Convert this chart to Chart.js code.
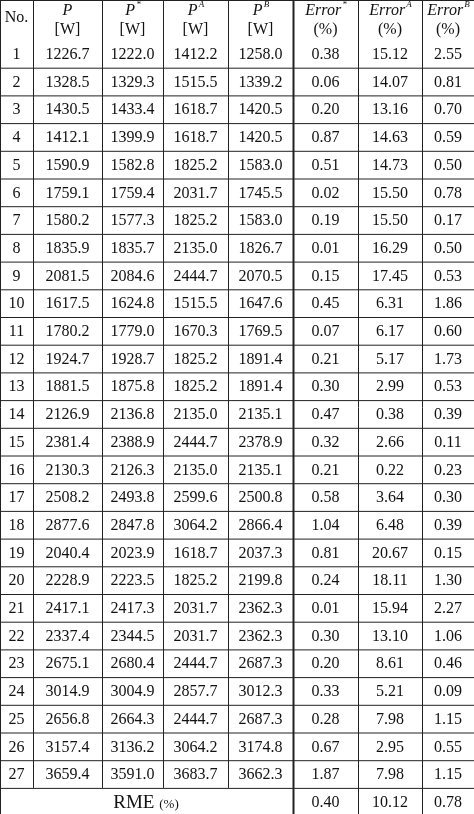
<!DOCTYPE html>
<html><head><meta charset="utf-8">
<script src="https://cdn.jsdelivr.net/npm/chart.js@4"></script>
<style>html,body{margin:0;padding:0;background:#fff}#c{display:block}</style>
</head><body><canvas id="c" width="474" height="814"></canvas>
<script>
const rowNo = [1,2,3,4,5,6,7,8,9,10,11,12,13,14,15,16,17,18,19,20,21,22,23,24,25,26,27];
const P      = ["1226.7","1328.5","1430.5","1412.1","1590.9","1759.1","1580.2","1835.9","2081.5","1617.5","1780.2","1924.7","1881.5","2126.9","2381.4","2130.3","2508.2","2877.6","2040.4","2228.9","2417.1","2337.4","2675.1","3014.9","2656.8","3157.4","3659.4"];
const Pstar  = ["1222.0","1329.3","1433.4","1399.9","1582.8","1759.4","1577.3","1835.7","2084.6","1624.8","1779.0","1928.7","1875.8","2136.8","2388.9","2126.3","2493.8","2847.8","2023.9","2223.5","2417.3","2344.5","2680.4","3004.9","2664.3","3136.2","3591.0"];
const PA     = ["1412.2","1515.5","1618.7","1618.7","1825.2","2031.7","1825.2","2135.0","2444.7","1515.5","1670.3","1825.2","1825.2","2135.0","2444.7","2135.0","2599.6","3064.2","1618.7","1825.2","2031.7","2031.7","2444.7","2857.7","2444.7","3064.2","3683.7"];
const PB     = ["1258.0","1339.2","1420.5","1420.5","1583.0","1745.5","1583.0","1826.7","2070.5","1647.6","1769.5","1891.4","1891.4","2135.1","2378.9","2135.1","2500.8","2866.4","2037.3","2199.8","2362.3","2362.3","2687.3","3012.3","2687.3","3174.8","3662.3"];
const ErrStar= ["0.38","0.06","0.20","0.87","0.51","0.02","0.19","0.01","0.15","0.45","0.07","0.21","0.30","0.47","0.32","0.21","0.58","1.04","0.81","0.24","0.01","0.30","0.20","0.33","0.28","0.67","1.87"];
const ErrA   = ["15.12","14.07","13.16","14.63","14.73","15.50","15.50","16.29","17.45","6.31","6.17","5.17","2.99","0.38","2.66","0.22","3.64","6.48","20.67","18.11","15.94","13.10","8.61","5.21","7.98","2.95","7.98"];
const ErrB   = ["2.55","0.81","0.70","0.59","0.50","0.78","0.17","0.50","0.53","1.86","0.60","1.73","0.53","0.39","0.11","0.23","0.30","0.39","0.15","1.30","2.27","1.06","0.46","0.09","1.15","0.55","1.15"];
const rme    = ["0.40","10.12","0.78"];
const headTop = [["No.",""],["P",""],["P","*"],["P","A"],["P","B"],["Error","*"],["Error","A"],["Error","B"]];

// layout (pixels)
const colEdges = [0,33,102,163,228,293,358,422,474];
const headH = 40, rowH = 27.7;
const rowTop = i => headH + i*rowH;

const serif = '"Liberation Serif","DejaVu Serif",serif';
const tablePlugin = {
  id:'table',
  afterDraw(chart){
    const ctx = chart.ctx, xs = chart.scales.x, ys = chart.scales.y;
    const X = v => xs.getPixelForValue(v), Y = v => ys.getPixelForValue(v);
    ctx.save();
    ctx.strokeStyle = '#222'; ctx.lineWidth = 1;
    const nRows = rowNo.length;
    const bottom = rowTop(nRows+1);
    for (let i=1;i<=nRows;i++){
      ctx.beginPath(); ctx.moveTo(X(0),Y(rowTop(i))+0.5); ctx.lineTo(X(474),Y(rowTop(i))+0.5); ctx.stroke();
    }
    ctx.beginPath(); ctx.moveTo(X(0),Y(0)+0.5); ctx.lineTo(X(474),Y(0)+0.5); ctx.stroke();
    colEdges.forEach((e,k)=>{
      if (k===8) return;
      const yEnd = (k>=1 && k<=4) ? rowTop(nRows) : bottom;
      ctx.lineWidth = (k===5)?2:1;
      ctx.beginPath(); ctx.moveTo(X(e)+0.5,Y(0)); ctx.lineTo(X(e)+0.5,Y(yEnd)); ctx.stroke();
    });
    ctx.fillStyle = '#111'; ctx.textBaseline='middle'; ctx.textAlign='center';
    const cx = k => X((colEdges[k]+colEdges[k+1])/2);
    headTop.forEach((h,k)=>{
      if (k===0){ ctx.font = '16px '+serif; ctx.fillText('No.', cx(0), Y(18)); return; }
      ctx.font = 'italic 16px '+serif;
      const w = ctx.measureText(h[0]).width;
      ctx.font = 'italic 9px '+serif;
      const ws = ctx.measureText(h[1]).width;
      const x0 = cx(k) - (w+ws)/2;
      ctx.textAlign='left';
      ctx.font = 'italic 16px '+serif; ctx.fillText(h[0], x0, Y(11));
      ctx.font = 'italic 9px '+serif; ctx.fillText(h[1], x0+w+1, Y(5));
      ctx.textAlign='center';
      ctx.font = '16px '+serif; ctx.fillText(k<=4?'[W]':'(%)', cx(k), Y(30));
    });
    ctx.font = '16px '+serif;
    const cols = [rowNo,P,Pstar,PA,PB,ErrStar,ErrA,ErrB];
    for (let i=0;i<nRows;i++){
      const yc = Y(rowTop(i)+rowH/2+1);
      cols.forEach((c,k)=>ctx.fillText(String(c[i]), cx(k), yc));
    }
    const yr = Y(rowTop(nRows)+rowH/2+1);
    ctx.font = '19px '+serif;
    const w1 = ctx.measureText('RME ').width;
    ctx.font = '13px '+serif;
    const w2 = ctx.measureText('(%)').width;
    const xs0 = X(146) - (w1+w2)/2;
    ctx.textAlign='left';
    ctx.font = '19px '+serif; ctx.fillText('RME ', xs0, yr);
    ctx.font = '13px '+serif; ctx.fillText('(%)', xs0+w1, yr+2);
    ctx.textAlign='center'; ctx.font = '16px '+serif;
    rme.forEach((v,j)=>ctx.fillText(v, cx(5+j), yr));
    ctx.restore();
  }
};

new Chart(document.getElementById('c'), {
  type:'scatter',
  data:{datasets:[{data:[], pointRadius:0}]},
  options:{
    responsive:false, animation:false, events:[],
    layout:{padding:0},
    plugins:{legend:{display:false}, tooltip:{enabled:false}},
    scales:{
      x:{type:'linear', min:0, max:474, display:false},
      y:{type:'linear', min:0, max:814, reverse:true, display:false}
    }
  },
  plugins:[tablePlugin]
});
</script></body></html>
